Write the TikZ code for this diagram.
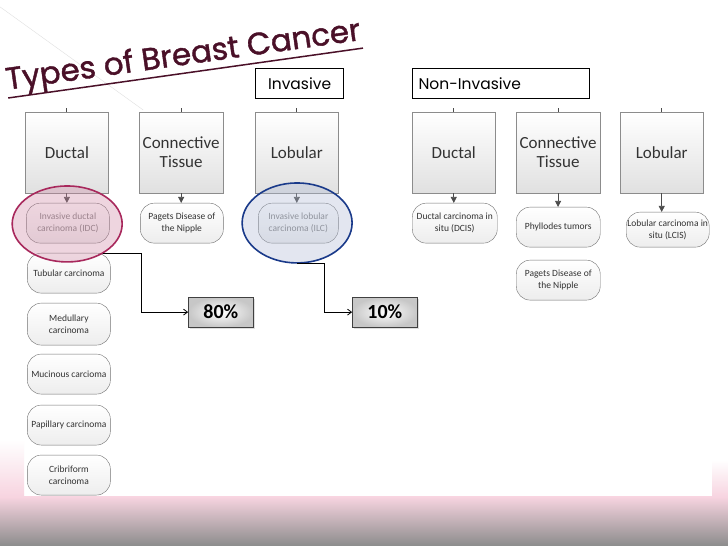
\documentclass[tikz,border=0pt]{standalone}
\usepackage{fontspec}
\setmainfont{Carlito}
\newfontfamily\gothic{Poppins}
\newfontfamily\gothicb[FakeBold=1.3]{Poppins}
\usetikzlibrary{positioning,arrows.meta,shapes.geometric,shadows}
\definecolor{titlecol}{HTML}{4A1028}
\definecolor{pinkbg}{HTML}{F7D4E0}
\definecolor{ringpink}{HTML}{A8285C}
\definecolor{ringblue}{HTML}{1A3A8A}

\begin{document}
\begin{tikzpicture}[x=1pt, y=-1pt,
  cat/.style={draw=black!45, top color=white, bottom color=black!12, minimum width=83pt, minimum height=81pt,
    anchor=north west, align=center, text=black!80, font=\fontsize{17}{19}\selectfont},
  sub/.style={draw=black!55, rounded corners=14pt, top color=white, bottom color=black!7, minimum width=83pt,
    minimum height=40pt, anchor=north west, align=center, inner sep=0pt, text=black!80, font=\fontsize{9.5}{12}\selectfont},
  lbl/.style={draw=black, line width=1pt, anchor=north west, minimum height=30pt, align=left, inner xsep=6pt,
    font=\gothic\fontsize{15.5}{17}\selectfont},
  pct/.style={draw=black!75, anchor=north west, inner color=white, outer color=black!22, minimum width=65pt,
    minimum height=30pt, drop shadow={opacity=0.25, shadow xshift=2pt, shadow yshift=-2pt},
    font=\bfseries\fontsize{20}{22}\selectfont},
  ring/.style={ellipse, line width=1.6pt, fill opacity=0.35, minimum width=110pt, minimum height=76pt},
  arr/.style={-{Triangle[length=6pt, width=6pt]}, draw=black!70, line width=0.8pt},
  link/.style={-{Straight Barb[length=4pt, width=6pt]}, draw=black, line width=0.8pt}]
\fill[white] (0,0) rectangle (728,546);
\shade[top color=pinkbg, bottom color=black!45] (0,497) rectangle (728,546);
\shade[top color=white, bottom color=pinkbg] (0,440) rectangle (24,497);
\shade[top color=white, bottom color=pinkbg] (712,460) rectangle (728,497);
\draw[black!12] (0,7) -- (143,110);

\node[rotate=8, anchor=south west, inner sep=0pt, text=titlecol, font=\gothicb\fontsize{31}{33}\selectfont]
  (title) at (8,98) {Types of Breast Cancer};
\draw[titlecol, line width=1.5pt] (title.south west) -- (title.south east);

\node[lbl, minimum width=88pt] (inv) at (255,68) {Invasive};
\node[lbl, minimum width=177pt, text width=165pt] (non) at (412,68) {Non-Invasive};

\node[cat] (iduct) at (25,112) {Ductal};
\node[cat] (iconn) at (139,112) {Connective\\Tissue};
\node[cat] (ilob) at (255,112) {Lobular};
\node[cat] (nduct) at (412,112) {Ductal};
\node[cat] (nconn) at (516,112) {Connective\\Tissue};
\node[cat] (nlob) at (620,112) {Lobular};

\node[sub, text=black!50] (idc) at (26,203) {Invasive ductal\\carcinoma (IDC)};
\node[sub] (tub) at (27,253) {Tubular carcinoma};
\node[sub, minimum height=42pt] (med) at (27,303) {Medullary\\carcinoma};
\node[sub] (muc) at (27,354) {Mucinous carcioma};
\node[sub] (pap) at (27,405) {Papillary carcinoma};
\node[sub] (cri) at (27,455) {Cribriform\\carcinoma};
\node[sub] (ipag) at (140,203) {Pagets Disease of\\the Nipple};
\node[sub, minimum width=80pt, text=black!50] (ilc) at (258,203) {Invasive lobular\\carcinoma (ILC)};
\node[sub, minimum width=85pt] (dcis) at (412,203) {Ductal carcinoma in\\situ (DCIS)};
\node[sub, minimum width=84pt] (phy) at (516,207) {Phyllodes tumors};
\node[sub, minimum width=84pt] (npag) at (516,260) {Pagets Disease of\\the Nipple};
\node[sub, minimum height=35pt] (lcis) at (626,212) {Lobular carcinoma in\\situ (LCIS)};

\foreach \u/\v in {iduct/idc, iconn/ipag, ilob/ilc, nduct/dcis, nconn/phy, nlob/lcis}
  \draw[arr] (\u.south) -- (\u.south |- \v.north);
\foreach \u in {iduct, iconn, ilob, nduct, nconn, nlob}
  \draw[black!70, line width=0.8pt] (\u.north) -- ++(0,-4);

\node[ring, draw=ringpink, fill=ringpink!55] (ringa) at (67,224) {};
\node[ring, draw=ringblue, fill=ringblue!35, minimum height=80pt] (ringb) at (297,223) {};

\node[pct] (p80) at (188,297) {80\%};
\node[pct] (p10) at (352,297) {10\%};

\draw[link] (ringa.-40) -- ++(39,0) |- (p80.west);
\draw[link] (ringb.south) -- ++(27,0) |- (p10.west);
\end{tikzpicture}
\end{document}
